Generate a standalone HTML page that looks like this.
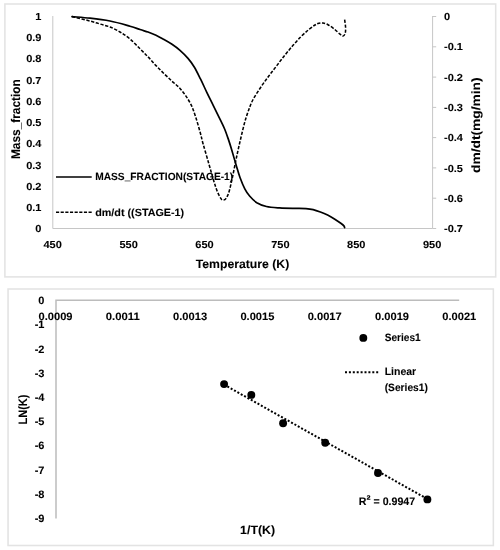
<!DOCTYPE html>
<html><head><meta charset="utf-8"><title>Charts</title>
<style>
html,body{margin:0;padding:0;background:#fff;}
svg{display:block;}
text{font-family:"Liberation Sans",sans-serif;font-weight:bold;fill:#000;stroke:#000;stroke-width:0.08px;text-rendering:geometricPrecision;}
</style></head><body>
<svg width="500" height="550" viewBox="0 0 500 550">
<rect x="0" y="0" width="500" height="550" fill="#fff"/>
<rect x="4.9" y="4.0" width="490.8" height="272.9" fill="#fff" stroke="#e3e3e3" stroke-width="1.55"/>
<path d="M52.8,16.0 V228.5 H432.6 V16.0" fill="none" stroke="#c6c6c6" stroke-width="1"/>
<line x1="432.6" x2="436.2" y1="16.5" y2="16.5" stroke="#c6c6c6" stroke-width="1"/>
<line x1="432.6" x2="436.2" y1="46.8" y2="46.8" stroke="#c6c6c6" stroke-width="1"/>
<line x1="432.6" x2="436.2" y1="77.1" y2="77.1" stroke="#c6c6c6" stroke-width="1"/>
<line x1="432.6" x2="436.2" y1="107.4" y2="107.4" stroke="#c6c6c6" stroke-width="1"/>
<line x1="432.6" x2="436.2" y1="137.6" y2="137.6" stroke="#c6c6c6" stroke-width="1"/>
<line x1="432.6" x2="436.2" y1="167.9" y2="167.9" stroke="#c6c6c6" stroke-width="1"/>
<line x1="432.6" x2="436.2" y1="198.2" y2="198.2" stroke="#c6c6c6" stroke-width="1"/>
<line x1="432.6" x2="436.2" y1="228.5" y2="228.5" stroke="#c6c6c6" stroke-width="1"/>
<text x="35.37" y="20.1" font-size="10.20px" textLength="6.13" lengthAdjust="spacingAndGlyphs">1</text>
<text x="26.19" y="41.2" font-size="10.20px" textLength="15.31" lengthAdjust="spacingAndGlyphs">0.9</text>
<text x="26.19" y="62.4" font-size="10.20px" textLength="15.31" lengthAdjust="spacingAndGlyphs">0.8</text>
<text x="26.19" y="83.6" font-size="10.20px" textLength="15.31" lengthAdjust="spacingAndGlyphs">0.7</text>
<text x="26.19" y="104.8" font-size="10.20px" textLength="15.31" lengthAdjust="spacingAndGlyphs">0.6</text>
<text x="26.19" y="126.0" font-size="10.20px" textLength="15.31" lengthAdjust="spacingAndGlyphs">0.5</text>
<text x="26.19" y="147.2" font-size="10.20px" textLength="15.31" lengthAdjust="spacingAndGlyphs">0.4</text>
<text x="26.19" y="168.5" font-size="10.20px" textLength="15.31" lengthAdjust="spacingAndGlyphs">0.3</text>
<text x="26.19" y="189.7" font-size="10.20px" textLength="15.31" lengthAdjust="spacingAndGlyphs">0.2</text>
<text x="26.19" y="210.9" font-size="10.20px" textLength="15.31" lengthAdjust="spacingAndGlyphs">0.1</text>
<text x="35.37" y="232.1" font-size="10.20px" textLength="6.13" lengthAdjust="spacingAndGlyphs">0</text>
<text x="444.00" y="20.1" font-size="10.20px" textLength="6.13" lengthAdjust="spacingAndGlyphs">0</text>
<text x="444.00" y="50.3" font-size="10.20px" textLength="18.98" lengthAdjust="spacingAndGlyphs">-0.1</text>
<text x="444.00" y="80.6" font-size="10.20px" textLength="18.98" lengthAdjust="spacingAndGlyphs">-0.2</text>
<text x="444.00" y="110.9" font-size="10.20px" textLength="18.98" lengthAdjust="spacingAndGlyphs">-0.3</text>
<text x="444.00" y="141.2" font-size="10.20px" textLength="18.98" lengthAdjust="spacingAndGlyphs">-0.4</text>
<text x="444.00" y="171.5" font-size="10.20px" textLength="18.98" lengthAdjust="spacingAndGlyphs">-0.5</text>
<text x="444.00" y="201.8" font-size="10.20px" textLength="18.98" lengthAdjust="spacingAndGlyphs">-0.6</text>
<text x="444.00" y="232.1" font-size="10.20px" textLength="18.98" lengthAdjust="spacingAndGlyphs">-0.7</text>
<text x="43.51" y="247.8" font-size="10.20px" textLength="18.38" lengthAdjust="spacingAndGlyphs">450</text>
<text x="119.41" y="247.8" font-size="10.20px" textLength="18.38" lengthAdjust="spacingAndGlyphs">550</text>
<text x="195.31" y="247.8" font-size="10.20px" textLength="18.38" lengthAdjust="spacingAndGlyphs">650</text>
<text x="271.21" y="247.8" font-size="10.20px" textLength="18.38" lengthAdjust="spacingAndGlyphs">750</text>
<text x="347.11" y="247.8" font-size="10.20px" textLength="18.38" lengthAdjust="spacingAndGlyphs">850</text>
<text x="423.01" y="247.8" font-size="10.20px" textLength="18.38" lengthAdjust="spacingAndGlyphs">950</text>
<text x="195.75" y="267.9" font-size="12.00px" textLength="93.50" lengthAdjust="spacingAndGlyphs">Temperature (K)</text>
<text transform="translate(20.0,119.1) rotate(-90)" x="-40.00" y="0" font-size="12.60px" textLength="80.00" lengthAdjust="spacingAndGlyphs">Mass_fraction</text>
<text transform="translate(480.0,125.2) rotate(-90)" x="-47.75" y="0" font-size="12.00px" textLength="95.50" lengthAdjust="spacingAndGlyphs">dm/dt(mg/min)</text>
<path d="M72.0,16.6 C75.0,16.9 83.7,17.5 90.0,18.2 C96.3,18.9 103.3,19.7 110.0,21.0 C116.7,22.3 125.0,24.8 130.0,26.2 C135.0,27.6 137.0,28.5 140.0,29.5 C143.0,30.5 145.3,31.1 148.0,32.0 C150.7,33.0 153.3,34.0 156.0,35.2 C158.7,36.5 161.3,38.0 164.0,39.5 C166.7,41.0 169.3,42.5 172.0,44.3 C174.7,46.1 177.3,48.0 180.0,50.4 C182.7,52.8 185.6,55.6 188.0,58.4 C190.4,61.2 192.3,63.7 194.4,67.2 C196.5,70.7 198.5,75.0 200.6,79.2 C202.7,83.4 204.7,88.0 206.8,92.4 C208.9,96.8 211.1,101.1 213.2,105.4 C215.3,109.7 217.7,114.6 219.6,118.4 C221.5,122.2 222.9,125.0 224.4,128.5 C225.9,132.0 227.2,135.9 228.4,139.4 C229.6,142.9 230.3,145.1 231.6,149.5 C232.9,153.9 235.0,161.3 236.4,166.0 C237.8,170.7 238.6,173.7 240.0,177.5 C241.4,181.3 243.2,185.7 244.8,188.8 C246.4,191.9 247.6,193.7 249.6,196.0 C251.6,198.3 254.0,200.9 256.8,202.7 C259.6,204.4 262.6,205.6 266.4,206.5 C270.2,207.4 275.0,207.6 279.6,207.9 C284.2,208.2 289.6,208.3 294.0,208.4 C298.4,208.5 302.8,208.4 306.0,208.6 C309.2,208.8 310.8,209.0 313.2,209.6 C315.6,210.2 318.0,211.1 320.4,212.0 C322.8,212.9 325.2,213.9 327.6,215.1 C330.0,216.3 332.6,217.8 334.8,219.2 C337.0,220.6 339.3,222.2 340.8,223.3 C342.3,224.4 343.3,225.2 343.9,225.9 C344.5,226.6 344.5,227.3 344.6,227.6" fill="none" stroke="#000" stroke-width="1.7" stroke-linejoin="round" stroke-linecap="round"/>
<path d="M72.0,16.6 C75.0,17.3 85.3,19.8 90.0,21.0 C94.7,22.2 96.7,23.0 100.0,24.0 C103.3,25.0 106.7,25.7 110.0,27.0 C113.3,28.3 116.7,30.0 120.0,32.0 C123.3,34.0 126.7,36.2 130.0,39.0 C133.3,41.8 137.0,45.8 140.0,48.8 C143.0,51.8 145.3,54.0 148.0,56.8 C150.7,59.6 153.3,62.8 156.0,65.6 C158.7,68.4 161.3,71.0 164.0,73.6 C166.7,76.2 169.5,78.9 172.0,81.2 C174.5,83.5 176.7,85.0 179.0,87.4 C181.3,89.8 183.5,92.6 185.6,95.6 C187.7,98.6 189.7,101.9 191.4,105.4 C193.1,108.9 194.2,112.5 195.6,116.8 C197.0,121.1 198.5,126.4 199.8,131.0 C201.1,135.6 201.7,138.8 203.2,144.2 C204.7,149.6 207.1,157.6 208.8,163.6 C210.5,169.6 212.2,175.8 213.6,180.4 C215.0,185.0 216.0,188.2 217.2,191.2 C218.4,194.2 219.8,196.9 220.8,198.4 C221.8,199.9 222.3,200.1 223.2,200.1 C224.1,200.1 225.1,199.9 226.1,198.4 C227.1,196.9 228.2,194.6 229.2,191.2 C230.2,187.8 231.2,183.0 232.3,178.0 C233.4,173.0 234.7,166.1 235.7,161.2 C236.7,156.3 237.5,152.7 238.4,148.6 C239.3,144.5 240.2,140.7 241.2,136.5 C242.2,132.3 243.3,127.5 244.4,123.4 C245.5,119.3 246.6,115.9 248.0,112.0 C249.4,108.1 250.7,104.1 252.8,100.0 C254.9,95.9 258.1,91.2 260.8,87.2 C263.5,83.2 266.1,79.6 268.8,76.0 C271.5,72.4 274.1,69.1 276.8,65.6 C279.5,62.1 282.1,58.5 284.8,55.2 C287.5,51.9 290.1,48.7 292.8,45.6 C295.5,42.5 298.1,39.5 300.8,36.8 C303.5,34.1 306.4,31.6 308.8,29.6 C311.2,27.6 313.3,26.1 315.0,25.0 C316.7,23.9 317.7,23.6 319.0,23.3 C320.3,23.0 321.5,22.8 323.0,23.0 C324.5,23.2 326.2,23.7 328.0,24.7 C329.8,25.7 332.0,27.2 334.0,28.8 C336.0,30.4 338.5,32.9 340.0,34.1 C341.5,35.3 342.2,36.1 343.1,36.0 C344.0,35.9 344.8,34.6 345.2,33.2 C345.6,31.8 345.7,29.8 345.6,27.5 C345.5,25.2 344.8,20.8 344.6,19.4" fill="none" stroke="#000" stroke-width="1.55" stroke-dasharray="3.3,1.6" stroke-linejoin="round"/>
<line x1="56" x2="91.7" y1="177" y2="177" stroke="#000" stroke-width="1.7"/>
<text x="95.20" y="180.2" font-size="10.40px" textLength="138.00" lengthAdjust="spacingAndGlyphs">MASS_FRACTION(STAGE-1)</text>
<line x1="56" x2="91.7" y1="212.2" y2="212.2" stroke="#000" stroke-width="1.6" stroke-dasharray="3.15,1.5"/>
<text x="95.20" y="215.7" font-size="10.40px" textLength="89.00" lengthAdjust="spacingAndGlyphs">dm/dt ((STAGE-1)</text>
<rect x="8.05" y="289" width="485.3" height="256.5" fill="#fff" stroke="#e3e3e3" stroke-width="1.55"/>
<path d="M56,518.6 V300.2 H459.2" fill="none" stroke="#bcbcbc" stroke-width="1.5"/>
<text x="38.37" y="304.1" font-size="10.70px" textLength="6.13" lengthAdjust="spacingAndGlyphs">0</text>
<text x="34.70" y="328.3" font-size="10.70px" textLength="9.80" lengthAdjust="spacingAndGlyphs">-1</text>
<text x="34.70" y="352.5" font-size="10.70px" textLength="9.80" lengthAdjust="spacingAndGlyphs">-2</text>
<text x="34.70" y="376.8" font-size="10.70px" textLength="9.80" lengthAdjust="spacingAndGlyphs">-3</text>
<text x="34.70" y="401.0" font-size="10.70px" textLength="9.80" lengthAdjust="spacingAndGlyphs">-4</text>
<text x="34.70" y="425.2" font-size="10.70px" textLength="9.80" lengthAdjust="spacingAndGlyphs">-5</text>
<text x="34.70" y="449.4" font-size="10.70px" textLength="9.80" lengthAdjust="spacingAndGlyphs">-6</text>
<text x="34.70" y="473.6" font-size="10.70px" textLength="9.80" lengthAdjust="spacingAndGlyphs">-7</text>
<text x="34.70" y="497.9" font-size="10.70px" textLength="9.80" lengthAdjust="spacingAndGlyphs">-8</text>
<text x="34.70" y="522.1" font-size="10.70px" textLength="9.80" lengthAdjust="spacingAndGlyphs">-9</text>
<text x="38.50" y="319.7" font-size="10.70px" textLength="34.00" lengthAdjust="spacingAndGlyphs">0.0009</text>
<text x="105.80" y="319.7" font-size="10.70px" textLength="34.00" lengthAdjust="spacingAndGlyphs">0.0011</text>
<text x="173.10" y="319.7" font-size="10.70px" textLength="34.00" lengthAdjust="spacingAndGlyphs">0.0013</text>
<text x="240.40" y="319.7" font-size="10.70px" textLength="34.00" lengthAdjust="spacingAndGlyphs">0.0015</text>
<text x="307.70" y="319.7" font-size="10.70px" textLength="34.00" lengthAdjust="spacingAndGlyphs">0.0017</text>
<text x="375.00" y="319.7" font-size="10.70px" textLength="34.00" lengthAdjust="spacingAndGlyphs">0.0019</text>
<text x="442.30" y="319.7" font-size="10.70px" textLength="34.00" lengthAdjust="spacingAndGlyphs">0.0021</text>
<text transform="translate(27.0,409.5) rotate(-90)" x="-15.00" y="0" font-size="12.20px" textLength="30.00" lengthAdjust="spacingAndGlyphs">LN(K)</text>
<text x="240.10" y="534.1" font-size="12.00px" textLength="35.00" lengthAdjust="spacingAndGlyphs">1/T(K)</text>
<line x1="224" y1="384.6" x2="427.3" y2="499" stroke="#000" stroke-width="2" stroke-dasharray="2,1.85"/>
<circle cx="224.1" cy="384.1" r="3.95" fill="#000"/>
<circle cx="251.3" cy="394.9" r="3.95" fill="#000"/>
<circle cx="283.1" cy="423.3" r="3.95" fill="#000"/>
<circle cx="325.2" cy="442.7" r="3.95" fill="#000"/>
<circle cx="378.0" cy="473.0" r="3.95" fill="#000"/>
<circle cx="427.4" cy="499.4" r="3.95" fill="#000"/>
<circle cx="363.3" cy="337.9" r="3.95" fill="#000"/>
<text x="384.70" y="341.1" font-size="10.70px" textLength="36.00" lengthAdjust="spacingAndGlyphs">Series1</text>
<line x1="345" x2="378.3" y1="372.3" y2="372.3" stroke="#000" stroke-width="2" stroke-dasharray="2,1.9"/>
<text x="384.70" y="375.3" font-size="10.70px" textLength="31.50" lengthAdjust="spacingAndGlyphs">Linear</text>
<text x="384.70" y="391.3" font-size="10.70px" textLength="43.20" lengthAdjust="spacingAndGlyphs">(Series1)</text>
<text x="358.80" y="505.1" font-size="10.90px" textLength="56.30" lengthAdjust="spacingAndGlyphs">R<tspan font-size="12.6px" dy="-0.9">²</tspan><tspan dy="0.9"> = 0.9947</tspan></text>
</svg></body></html>
